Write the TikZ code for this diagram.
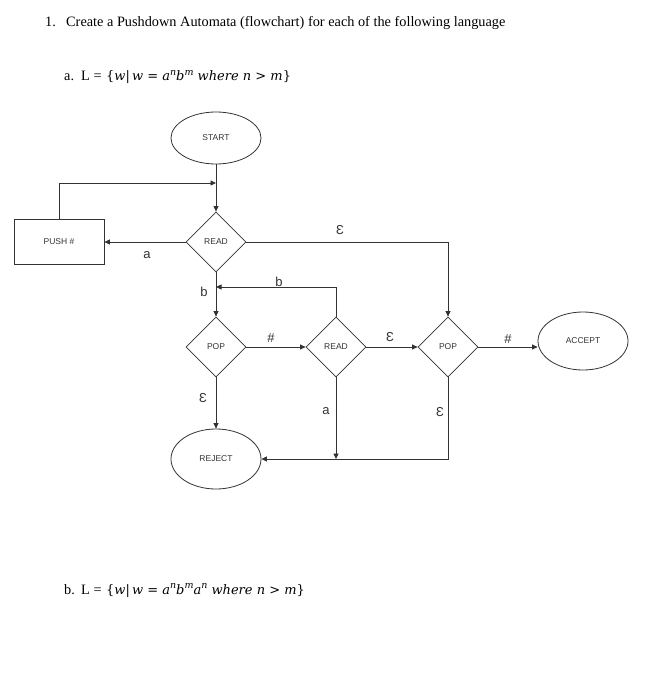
\documentclass[tikz,border=0pt]{standalone}
\usepackage{fontspec}
\setmainfont{Liberation Serif}
\newfontfamily\arial{Liberation Sans}
\newfontfamily\mathf{DejaVu Serif}
\usetikzlibrary{shapes.geometric,arrows.meta}
\definecolor{lc}{HTML}{333333}
\newcommand{\mi}[1]{\textit{#1}}
\newcommand{\supx}[1]{\raisebox{0.42em}{\fontsize{9.5}{10}\selectfont\textit{#1}}}
\begin{document}
\begin{tikzpicture}[x=1pt,y=-1pt,
  line/.style={draw=lc, line width=0.8pt},
  arr/.style={line, -{Triangle[length=5.5pt,width=5pt]}},
  term/.style={ellipse, draw=lc, line width=0.8pt, minimum width=90pt, minimum height=52pt, inner sep=0pt, text=lc, font=\arial\fontsize{8.5}{10}\selectfont},
  dec/.style={diamond, aspect=1, draw=lc, line width=0.8pt, minimum size=60pt, inner sep=0pt, text=lc, font=\arial\fontsize{8.5}{10}\selectfont},
  proc/.style={rectangle, draw=lc, line width=0.8pt, minimum width=90pt, minimum height=45pt, inner sep=0pt, text=lc, font=\arial\fontsize{8.5}{10}\selectfont},
  lbl/.style={inner sep=0pt, text=lc, font=\arial\fontsize{13}{15}\selectfont},
  txt/.style={inner sep=0pt, anchor=base west, font=\fontsize{14.3}{17}\selectfont},
  mtxt/.style={inner sep=0pt, anchor=base west, font=\mathf\fontsize{13}{15}\selectfont}
]
\useasboundingbox (0,0) rectangle (652,682);
\fill[white] (0,0) rectangle (652,682);

% header texts
\node[txt] (h1) at (45,27) {1.};
\node[txt] (h1t) at (66,27) {Create a Pushdown Automata (flowchart) for each of the following language};
\node[txt] (ha) at (64,81) {a.};
\node[txt] (hal) at (81,81) {L =};
\node[mtxt] (hat) at (hal.base east) {\ \{\mi{w}|\,\mi{w} = \mi{a}\supx{n}\mi{b}\supx{m} \mi{where n} > \mi{m}\}};
\node[txt] (hb) at (64,594) {b.};
\node[txt] (hbl) at (81,594) {L =};
\node[mtxt] (hbt) at (hbl.base east) {\ \{\mi{w}|\,\mi{w} = \mi{a}\supx{n}\mi{b}\supx{m}\mi{a}\supx{n} \mi{where n} > \mi{m}\}};

% nodes
\node[term] (start) at (216,138) {START};
\node[dec] (read1) at (216,242) {READ};
\node[proc] (push) at (59,242) {PUSH \#};
\node[dec] (pop1) at (216,347) {POP};
\node[dec] (read2) at (336,347) {READ};
\node[dec] (pop2) at (448,347) {POP};
\node[term, minimum height=58pt] (accept) at (583,341) {ACCEPT};
\node[term, minimum height=60pt] (reject) at (216,459) {REJECT};

\coordinate (fb1) at (216,183);
\coordinate (fb2) at (216,287);
\coordinate (j) at (336,459);

% connectors
\draw[arr] (start) -- (read1);
\draw[arr] (push.north) |- (fb1);
\draw[arr] (read1.west) -- (push.east);
\draw[arr] (read1.east) -| (pop2.north);
\draw[arr] (read1.south) -- (pop1.north);
\draw[arr] (read2.north) |- (fb2);
\draw[arr] (pop1.east) -- (read2.west);
\draw[arr] (read2.east) -- (pop2.west);
\draw[arr] (pop2.east) -- (pop2.east -| accept.west);
\draw[arr] (pop1.south) -- (reject.north);
\draw[arr] (read2.south) -- (j);
\draw[arr] (pop2.south) |- (reject.east);

% labels
\node[lbl] (la) at (147,255) {a};
\node[lbl] (le1) at (340,230) {Ɛ};
\node[lbl] (lb1) at (204,292) {b};
\node[lbl] (lb2) at (279,282) {b};
\node[lbl] (lh1) at (271,338) {\#};
\node[lbl] (le2) at (390,337) {Ɛ};
\node[lbl] (lh2) at (508,339) {\#};
\node[lbl] (le3) at (203,398) {Ɛ};
\node[lbl] (la2) at (326,411) {a};
\node[lbl] (le4) at (440,412) {Ɛ};
\end{tikzpicture}
\end{document}
